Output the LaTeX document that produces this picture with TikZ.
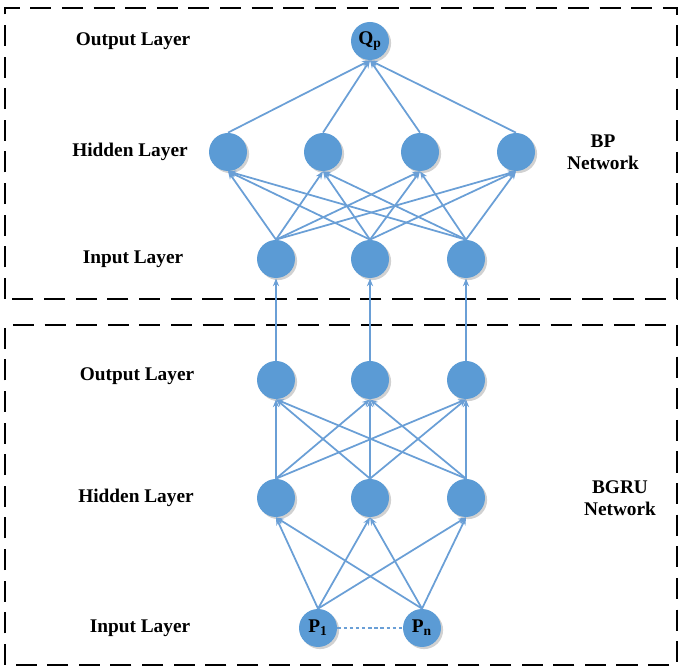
\documentclass[tikz,border=0pt]{standalone}
\usepackage{fontspec}
\setmainfont{Liberation Serif}
\usepackage{tikz}
\usetikzlibrary{arrows.meta,positioning,shadows}
\definecolor{nodeblue}{HTML}{5B9BD5}
\definecolor{edgeblue}{HTML}{6A9FD6}

\tikzset{
  neuron/.style={circle, fill=nodeblue, minimum size=0.76cm, inner sep=0pt,
    font=\fontsize{11}{12}\selectfont\bfseries,
    drop shadow={shadow xshift=1.2pt, shadow yshift=-1.2pt, fill=gray!60, opacity=0.6}},
  conn/.style={-{Stealth[length=4.5pt,width=3.5pt]}, edgeblue, line width=1pt},
  layerlabel/.style={font=\fontsize{11}{12.5}\selectfont\bfseries, align=center},
  netbox/.style={black, line width=1.1pt, dash pattern=on 12pt off 6pt}
}

\begin{document}
\begin{tikzpicture}[x=0.02cm, y=0.02cm]
\useasboundingbox (0,0) rectangle (685,671);

% Dashed frames
\draw[netbox] (5,372) rectangle (677,663);
\draw[netbox] (5,6) rectangle (677,346);

% BP network
\node[neuron] (qp) at (370,630) {Q\textsubscript{p}};
\foreach \x [count=\i] in {228,323,420,516}
  \node[neuron] (bph\i) at (\x,519) {};
\foreach \x [count=\i] in {276,370,466}
  \node[neuron] (bpi\i) at (\x,412) {};

% BGRU network
\foreach \x [count=\i] in {276,370,466} {
  \node[neuron] (gro\i) at (\x,291) {};
  \node[neuron] (grh\i) at (\x,173) {};
}
\node[neuron] (p1) at (318,43) {P\textsubscript{1}};
\node[neuron] (pn) at (422,43) {P\textsubscript{n}};
\draw[edgeblue, line width=0.7pt, dash pattern=on 2pt off 1.5pt] (p1) -- (pn);

% Connections
\foreach \i in {1,...,4}
  \draw[conn] (bph\i.north) -- (qp.south);
\foreach \i in {1,...,3} {
  \foreach \j in {1,...,4}
    \draw[conn] (bpi\i.north) -- (bph\j.south);
  \draw[conn] (gro\i.north) -- (bpi\i.south);
  \foreach \j in {1,...,3}
    \draw[conn] (grh\i.north) -- (gro\j.south);
  \draw[conn] (p1.north) -- (grh\i.south);
  \draw[conn] (pn.north) -- (grh\i.south);
}

% Layer labels
\node[layerlabel] (bpout) at (133,630) {Output Layer};
\node[layerlabel] (bphid) at (130,519) {Hidden Layer};
\node[layerlabel] (bpin) at (133,412) {Input Layer};
\node[layerlabel] (bpname) at (603,519) {BP\\Network};
\node[layerlabel] (grout) at (137,295) {Output Layer};
\node[layerlabel] (grhid) at (136,173) {Hidden Layer};
\node[layerlabel] (grin) at (140,43) {Input Layer};
\node[layerlabel] (grname) at (620,173) {BGRU\\Network};

\end{tikzpicture}
\end{document}
